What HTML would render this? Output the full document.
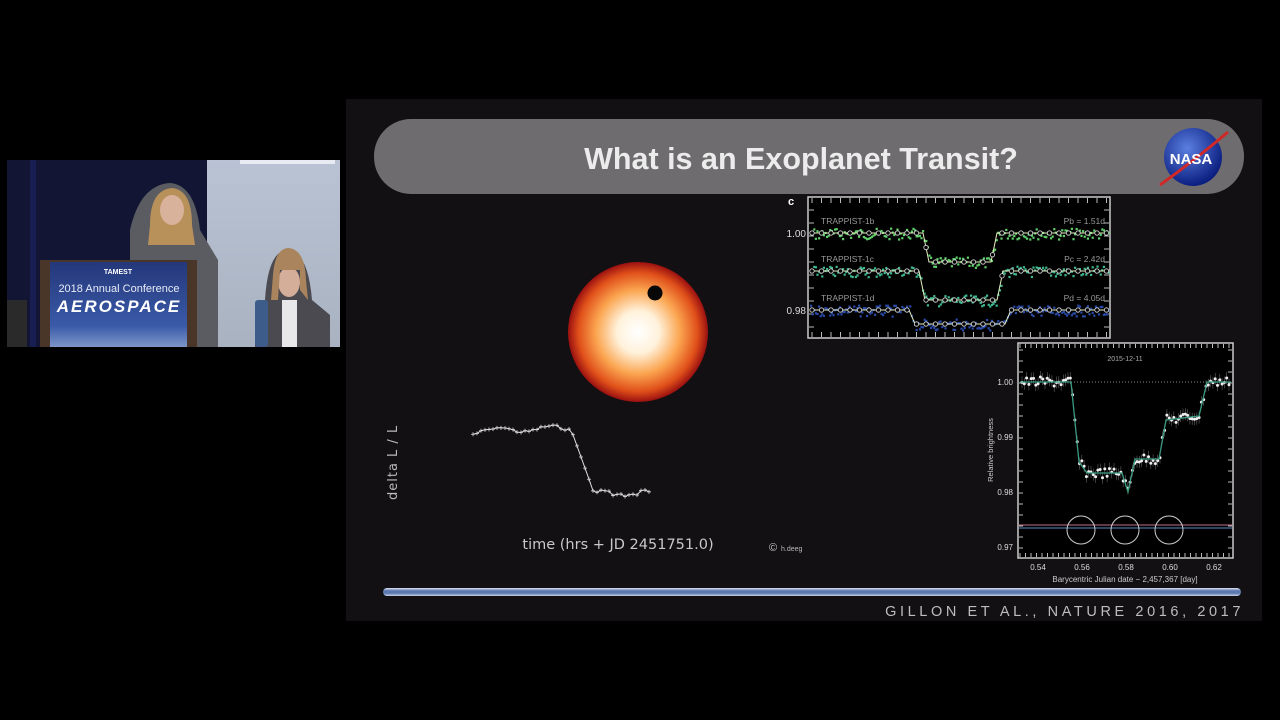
<!DOCTYPE html>
<html><head><meta charset="utf-8"><style>
html,body{margin:0;padding:0;background:#000;width:1280px;height:720px;overflow:hidden;font-family:"Liberation Sans",sans-serif}
</style></head><body>
<svg id="s" width="1280" height="720" viewBox="0 0 1280 720" xmlns="http://www.w3.org/2000/svg">
<defs>
<radialGradient id="star" cx="0.5" cy="0.5" r="0.5">
<stop offset="0" stop-color="#ffffff"/><stop offset="0.3" stop-color="#fff2dc"/><stop offset="0.6" stop-color="#fba550"/><stop offset="0.85" stop-color="#e0501a"/><stop offset="1" stop-color="#9a1010"/>
</radialGradient>
<radialGradient id="nasa" cx="0.4" cy="0.35" r="0.65"><stop offset="0" stop-color="#5a7fe0"/><stop offset="1" stop-color="#0b1f80"/></radialGradient>
<linearGradient id="bar" x1="0" y1="0" x2="0" y2="1"><stop offset="0" stop-color="#dfe6f5"/><stop offset="0.35" stop-color="#5d78b0"/><stop offset="0.65" stop-color="#5d78b0"/><stop offset="1" stop-color="#c8d2ea"/></linearGradient>
<linearGradient id="scr" x1="0" y1="0" x2="0" y2="1"><stop offset="0" stop-color="#b9c3d4"/><stop offset="1" stop-color="#a9b2c0"/></linearGradient>
<linearGradient id="pod" x1="0" y1="0" x2="0" y2="1"><stop offset="0" stop-color="#24377a"/><stop offset="0.75" stop-color="#3a5aa8"/><stop offset="1" stop-color="#7d96c8"/></linearGradient>
</defs>
<!-- left video -->
<rect x="7" y="160" width="333" height="187" fill="#0c1028"/>
<rect x="7" y="160" width="200" height="187" fill="#121634"/>
<rect x="30" y="160" width="6" height="187" fill="#1d2566" opacity="0.6"/>
<rect x="207" y="160" width="133" height="187" fill="url(#scr)"/>
<rect x="240" y="160" width="95" height="4" fill="#e8ecf2"/>
<path d="M130 230 Q140 185 170 183 Q195 185 200 230 L218 260 L218 347 L130 347 Z" fill="#5a5c62"/>
<path d="M150 225 Q150 190 172 188 Q192 190 192 225 L195 245 L148 245 Z" fill="#b8905a"/>
<ellipse cx="172" cy="210" rx="12" ry="15" fill="#d8b29a"/>
<path d="M265 300 Q268 250 288 250 Q308 252 312 300 L330 315 L330 347 L255 347 L255 315 Z" fill="#4a4a50"/>
<ellipse cx="289" cy="282" rx="11" ry="15" fill="#d4ae98"/>
<path d="M273 275 Q275 248 289 248 Q305 250 306 280 L308 300 L300 290 L300 270 L280 270 L278 300 L271 300 Z" fill="#a9845c"/>
<rect x="282" y="300" width="15" height="47" fill="#e8e8ea"/>
<rect x="255" y="300" width="13" height="47" rx="3" fill="#3e5c8a"/>
<rect x="40" y="260" width="157" height="87" fill="#4a3628"/>
<rect x="50" y="262" width="137" height="85" fill="url(#pod)"/>
<text x="118" y="274" fill="#fff" font-size="7" font-weight="bold" text-anchor="middle">TAMEST</text>
<text x="119" y="292" fill="#e8ecf6" font-size="11" text-anchor="middle">2018 Annual Conference</text>
<text x="119" y="312" fill="#ffffff" font-size="17" font-weight="bold" font-style="italic" text-anchor="middle" letter-spacing="2">AEROSPACE</text>
<rect x="7" y="300" width="20" height="47" fill="#2a2a2a"/>
<!-- slide -->
<rect x="346" y="99" width="916" height="522" fill="#121012"/>
<rect x="374" y="119" width="870" height="75" rx="37" fill="#6e6c6e"/>
<text x="801" y="169" fill="#ececec" font-size="30.5" font-weight="bold" text-anchor="middle">What is an Exoplanet Transit?</text>
<circle cx="1193" cy="157" r="29" fill="url(#nasa)"/>
<path d="M1160 185 Q1195 160 1228 132" stroke="#d02828" stroke-width="3" fill="none"/>
<text x="1191" y="164" fill="#fff" font-size="15" font-weight="bold" text-anchor="middle">NASA</text>
<circle cx="638" cy="332" r="70" fill="url(#star)"/>
<circle cx="655" cy="293" r="7.5" fill="#080808"/>
<text transform="translate(397,500) rotate(-90)" fill="#bbb" font-size="13" font-family="DejaVu Sans, sans-serif" letter-spacing="1">delta L / L</text>
<polyline id="lc" fill="none" stroke="#ddd" stroke-width="1"/>
<g id="lcp" stroke="#ddd" stroke-width="0.8"></g>
<text x="618" y="549" fill="#c8c8c8" font-size="14.5" font-family="DejaVu Sans, sans-serif" text-anchor="middle">time (hrs + JD 2451751.0)</text>
<text x="769" y="551" fill="#ccc" font-size="11">©</text><text x="781" y="551" fill="#bbb" font-size="7">h.deeg</text>
<!-- top chart -->
<text x="788" y="205" fill="#fff" font-size="11" font-weight="bold">c</text>
<rect x="808" y="197" width="302" height="141" fill="#000" stroke="#ccc" stroke-width="1.5"/>
<g id="tt" stroke="#bbb" stroke-width="1"></g>
<text x="806" y="237" fill="#ddd" font-size="10" text-anchor="end">1.00</text>
<text x="806" y="314" fill="#ddd" font-size="10" text-anchor="end">0.98</text>
<g id="tp"></g>
<text x="821" y="224" fill="#999" font-size="8.5">TRAPPIST-1b</text>
<text x="821" y="262" fill="#999" font-size="8.5">TRAPPIST-1c</text>
<text x="821" y="301" fill="#999" font-size="8.5">TRAPPIST-1d</text>
<text x="1105" y="224" fill="#999" font-size="8.5" text-anchor="end">Pb = 1.51d</text>
<text x="1105" y="262" fill="#999" font-size="8.5" text-anchor="end">Pc = 2.42d</text>
<text x="1105" y="301" fill="#999" font-size="8.5" text-anchor="end">Pd = 4.05d</text>
<!-- bottom chart -->
<rect x="1018" y="343" width="215" height="215" fill="#000" stroke="#ccc" stroke-width="1.5"/>
<g id="bt" stroke="#bbb" stroke-width="1"></g>
<text x="1125" y="361" fill="#aaa" font-size="7" text-anchor="middle">2015-12-11</text>
<line x1="1020" y1="382" x2="1231" y2="382" stroke="#888" stroke-dasharray="1 2"/>
<g id="bp"></g>
<polyline id="bm" fill="none" stroke="#3a9a80" stroke-width="1.3"/>
<line x1="1019" y1="525" x2="1232" y2="525" stroke="#c07090" stroke-width="1"/>
<line x1="1019" y1="528" x2="1232" y2="528" stroke="#5a8ac0" stroke-width="1"/>
<circle cx="1081" cy="530" r="14" fill="none" stroke="#ccc"/>
<circle cx="1125" cy="530" r="14" fill="none" stroke="#ccc"/>
<circle cx="1169" cy="530" r="14" fill="none" stroke="#ccc"/>
<g fill="#ddd" font-size="8" text-anchor="end">
<text x="1013" y="385">1.00</text><text x="1013" y="440">0.99</text><text x="1013" y="495">0.98</text><text x="1013" y="550">0.97</text></g>
<text transform="translate(993,450) rotate(-90)" fill="#ccc" font-size="7.5" text-anchor="middle">Relative brightness</text>
<g fill="#ddd" font-size="8" text-anchor="middle">
<text x="1038" y="570">0.54</text><text x="1082" y="570">0.56</text><text x="1126" y="570">0.58</text><text x="1170" y="570">0.60</text><text x="1214" y="570">0.62</text></g>
<text x="1125" y="582" fill="#ccc" font-size="8" text-anchor="middle">Barycentric Julian date − 2,457,367 [day]</text>
<rect x="383" y="588" width="858" height="8" rx="4" fill="url(#bar)"/>
<text x="1244" y="616" fill="#bdbdbd" font-size="14.5" text-anchor="end" letter-spacing="3.6">GILLON ET AL., NATURE 2016, 2017</text>
</svg>
<script>
var ns="http://www.w3.org/2000/svg",seed=7;function r(){seed=(seed*9301+49297)%233280;return seed/233280;}
function el(p,t,a){var e=document.createElementNS(ns,t);for(var k in a)e.setAttribute(k,a[k]);document.getElementById(p).appendChild(e);}
var pts=[],x;for(x=473;x<=652;x+=4){var y;if(x<572)y=432+3*Math.sin(x/9)-(x>500?3:0)+(r()-.5)*3;else if(x<590)y=432+(x-572)/18*50;else y=487+(x>610?8:4)+(x>640?-4:0)+(r()-.5)*3;pts.push(x+","+y.toFixed(1));el("lcp","path",{d:"M"+(x-2)+" "+y+"h4M"+x+" "+(y-2)+"v4"});}
document.getElementById("lc").setAttribute("points",pts.join(" "));
for(x=812;x<1110;x+=9.5){el("tt","line",{x1:x,y1:198,x2:x,y2:203});el("tt","line",{x1:x,y1:337,x2:x,y2:332});}
for(var yy=210;yy<338;yy+=13){el("tt","line",{x1:809,y1:yy,x2:814,y2:yy});el("tt","line",{x1:1109,y1:yy,x2:1104,y2:yy});}
function lv(base,d,a,b,x){if(x<a-3||x>b+3)return base;if(x<a+3)return base+d*(x-a+3)/6;if(x>b-3)return base+d*(b+3-x)/6;return base+d;}
function tr(base,d,a,b,col){for(x=810;x<1108;x+=1.6){var y=lv(base,d,a,b,x)+(r()-.5)*11;el("tp","rect",{x:x,y:y,width:2.2,height:2.2,fill:col});}
var p=[];for(x=810;x<1108;x+=1)p.push(x+","+lv(base,d,a,b,x).toFixed(1));el("tp","polyline",{points:p.join(" "),fill:"none",stroke:"#e8f0c0","stroke-width":1});
for(x=812;x<1108;x+=9.5){el("tp","circle",{cx:x,cy:lv(base,d,a,b,x),r:2.2,fill:"#000",stroke:"#ddd","stroke-width":0.8});}}
tr(233,29,926,994,"#5fcf6a");tr(271,29,922,1000,"#3fb890");tr(310,14,912,1008,"#2a4aa8");
for(x=1020;x<1232;x+=5.5){el("bt","line",{x1:x,y1:344,x2:x,y2:348});el("bt","line",{x1:x,y1:557,x2:x,y2:553});}
for(yy=350;yy<558;yy+=11){el("bt","line",{x1:1019,y1:yy,x2:1023,y2:yy});el("bt","line",{x1:1232,y1:yy,x2:1228,y2:yy});}
function m(x){if(x<1071)return 382;if(x<1079)return 382+(x-1071)/8*80;if(x<1087)return 462+(x-1079)/8*11;if(x<1122)return 473;if(x<1128)return 473+(x-1122)/6*19;if(x<1135)return 492-(x-1128)/7*33;if(x<1159)return 459;if(x<1166)return 459-(x-1159)/7*39;if(x<1199)return 420-(x-1166)/33*4;if(x<1207)return 416-(x-1199)/8*34;return 382;}
var bm=[];for(x=1020;x<1232;x+=1)bm.push(x+","+m(x).toFixed(1));document.getElementById("bm").setAttribute("points",bm.join(" "));
for(x=1022;x<1230;x+=2.3){var y=m(x)+(r()-.5)*10;el("bp","line",{x1:x,y1:y-6,x2:x,y2:y+6,stroke:"#666","stroke-width":0.6});el("bp","circle",{cx:x,cy:y,r:1.5,fill:"#eee"});}
</script>
</body></html>
